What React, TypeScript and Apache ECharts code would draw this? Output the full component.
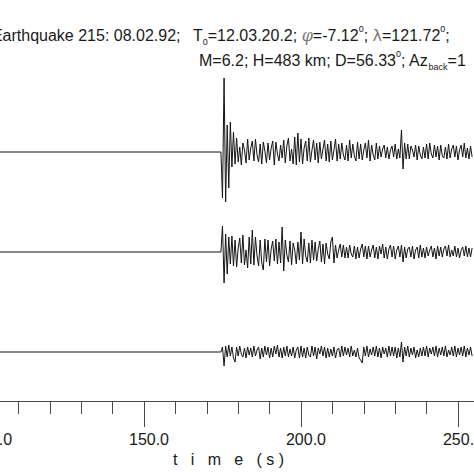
import React, { useEffect, useRef } from "react";
import * as echarts from "echarts";

// Sample times: traces start at onsetStart, step 0.5 s; before that a flat line from preTime
const preTime = 100;
const onsetStart = 174.5;
const step = 0.5;

const xMin = 104.14;
const xMax = 255.1;
const majorTicks = [150, 200, 250];
const minorTicks = [110, 120, 130, 140, 160, 170, 180, 190, 210, 220, 230, 240];
const offLeftLabel = "100.0";

// Amplitudes (arbitrary units, up positive)
const trace1 = [
  0, -46, 74, -50, 27, -36, 30, -15, 20, -12,
  14, -10, 5, -13, 9, 2, -11, 13, -8, 4,
  11, -9, 13, -3, -10, 8, -12, 10, 1, -11,
  9, -8, 4, 11, -13, 10, -2, -9, 7, -6,
  12, -11, 6, 14, -9, 3, -12, 15, -13, 19,
  -10, 13, -12, 4, 11, -9, 14, -10, 2, 12,
  -8, 9, -11, 10, -7, 3, 12, -9, 8, -10,
  11, -8, 2, 13, -9, 8, -7, 9, -3, -8,
  7, -9, 12, -6, 8, -4, -9, 10, -7, 8,
  -8, 2, 9, -6, 12, -9, 7, -3, -8, 9,
  -7, 6, -5, 3, 7, -6, 5, -7, 2, 6,
  -5, 8, -7, 3, -6, 22, -17, 9, -7, 8,
  -7, 6, 2, -5, 7, -8, 6, -3, -7, 5,
  -6, 8, -7, 9, -2, -6, 7, -5, 6, -8,
  7, -4, -6, 5, -7, 8, -6, 3, 7, -5,
  6, -8, 2, 7, -5, 9, -6, 4, -7, 6,
  -5,
];

const trace2 = [
  0, 26, -31, 18, -22, 15, -12, 16, -14, 12,
  -15, 4, 14, -11, 17, -13, 2, -16, 15, -12,
  22, -13, 15, -4, -14, 12, -11, -18, 13, -10,
  12, -14, 3, 11, -9, 13, -12, 10, -11, 25,
  -19, 12, -3, -10, 11, -13, 9, 2, -12, 10,
  -8, 20, -12, 13, -4, -10, 9, -11, 12, -8,
  10, -9, 3, 11, -10, 8, -12, 9, -2, -7,
  10, 15, -11, 7, -6, 2, 8, -5, 7, -6,
  5, -6, 7, -2, -5, 6, -7, 5, -6, 3,
  8, -5, 6, -7, 6, -5, 2, 7, -6, 5,
  -7, 6, -2, 8, -6, 5, -7, 3, 7, -5,
  6, -7, 2, 6, -5, 7, -10, 5, -6, 3,
  5, -5, 6, -7, 2, 5, -6, 7, -5, 4,
  -6, 5, -4, 2, 6, -5, 4, -7, 6, -4,
  5, -5, 3, 6, -4, 7, -5, 2, -4, 6,
  -5, 4, -6, 2, 5, -4, 6, -5, 4, -5,
  4,
];

const trace3 = [
  0, 5, -14, 6, -5, 7, -4, 5, -6, -10,
  5, -4, 6, -2, -5, 4, -6, 5, -3, 4,
  -5, 6, -4, 2, 5, -7, 4, -5, 6, -3,
  5, -6, 4, -5, 6, -2, 7, -5, 4, -6,
  5, -4, 6, -5, 3, -4, 5, -6, 2, 5,
  -6, 6, -5, 4, -6, 5, -3, -5, 6, -4,
  5, -7, 4, -2, 6, -4, 5, -6, 4, -5,
  3, -4, 5, -6, 2, 4, -5, 6, -4, 5,
  -3, 4, -5, 6, -4, 2, -5, 4, -6, -8,
  -11, 5, -4, 6, -5, 3, -3, 5, -4, 6,
  -5, 4, -6, 5, -2, 4, -5, 6, -4, 5,
  -4, 5, -6, 4, -5, 10, -10, 5, -4, 6,
  -5, 4, -3, 5, -6, 2, -5, 4, -4, 5,
  -4, 6, -5, 4, -2, 5, -4, 6, -5, 4,
  -3, 5, -4, 6, -5, 2, -3, 5, -4, 6,
  -5, 4, -3, 5, -4, 6, -5, 4, -3, 5,
  -4,
];

// Vertical display offsets of the three traces
const traceOffsets = [249, 149, 49];
const traces = [trace1, trace2, trace3];

const titleLine1a = "Earthquake 215: 08.02.92;";
const titleLine1b = "T{sub|0}=12.03.20.2; {sym|φ}=-7.12{sup|0}; {sym2|λ}=121.72{sup|0};";
const titleLine2 = "M=6.2; H=483 km; D=56.33{sup|0}; Az{sub|back}=1";
const axisName = "t   i   m   e   ( s )";

const FONT = "'Liberation Sans', Arial, sans-serif";

const richStyles = {
  sub: { fontSize: 9, fontFamily: FONT, fill: "#1a1a1a", verticalAlign: "bottom", lineHeight: 22 },
  sup: { fontSize: 9, fontFamily: FONT, fill: "#1a1a1a", verticalAlign: "top", lineHeight: 22 },
  sym: { fontSize: 16, fontFamily: "'DejaVu Serif', serif", fontStyle: "italic", fill: "#777", lineHeight: 22 },
  sym2: { fontSize: 16, fontFamily: "'DejaVu Sans', sans-serif", fill: "#777", lineHeight: 22 },
};

const tickColor = "#4a4a4a";

export default function App() {
  const ref = useRef<HTMLDivElement>(null);
  useEffect(() => {
    if (!ref.current) return;
    const chart = echarts.init(ref.current, null, { renderer: "svg" });
    const series = traces.map((tr, k) => {
      const off = traceOffsets[k];
      const data: number[][] = [[preTime, off]];
      tr.forEach((v, i) => data.push([onsetStart + i * step, off + v]));
      return {
        type: "line",
        data,
        showSymbol: false,
        symbol: "none",
        clip: true,
        lineStyle: { color: "#141414", width: 1 },
        silent: true,
      };
    });
    chart.setOption({
      animation: false,
      backgroundColor: "#ffffff",
      grid: { left: 0, right: 0, top: 0, bottom: 73, outerBoundsMode: "none", containLabel: false },
      xAxis: [
        {
          type: "value",
          min: xMin,
          max: xMax,
          position: "bottom",
          axisLine: { show: true, lineStyle: { color: tickColor, width: 1 } },
          axisTick: { show: true, length: 26, inside: false, customValues: majorTicks, lineStyle: { color: tickColor } },
          splitLine: { show: false },
          axisLabel: {
            show: true,
            customValues: majorTicks,
            margin: 30,
            fontSize: 16,
            fontFamily: FONT,
            color: "#1a1a1a",
            padding: [0, 0, 0, 10],
            formatter: (v: number) => v.toFixed(1),
          },
        },
        {
          type: "value",
          min: xMin,
          max: xMax,
          position: "bottom",
          offset: 0,
          axisLine: { show: false },
          axisTick: { show: true, length: 13, inside: false, customValues: minorTicks, lineStyle: { color: tickColor } },
          axisLabel: { show: false },
          splitLine: { show: false },
        },
      ],
      yAxis: { type: "value", min: 0, max: 401, show: false },
      series,
      graphic: [
        {
          type: "text",
          x: -8,
          y: 431,
          style: { text: offLeftLabel, font: `16px ${FONT}`, fill: "#1a1a1a", align: "center", verticalAlign: "top" },
        },
        {
          type: "text",
          x: 180.5,
          y: 35,
          style: { text: titleLine1a, font: `16px ${FONT}`, fill: "#1a1a1a", align: "right", verticalAlign: "middle" },
        },
        {
          type: "text",
          x: 193,
          y: 35,
          style: { text: titleLine1b, font: `16px ${FONT}`, fill: "#1a1a1a", rich: richStyles, lineHeight: 22, verticalAlign: "middle" },
        },
        {
          type: "text",
          x: 199,
          y: 60,
          style: { text: titleLine2, font: `16px ${FONT}`, fill: "#1a1a1a", rich: richStyles, lineHeight: 22, verticalAlign: "middle" },
        },
        {
          type: "text",
          x: 173,
          y: 459,
          style: { text: axisName, font: `16px ${FONT}`, fill: "#1a1a1a", align: "left", verticalAlign: "middle" },
        },
      ],
    });
    return () => chart.dispose();
  }, []);
  return <div ref={ref} style={{ position: "fixed", left: 0, top: 0, width: 474, height: 474 }} />;
}
